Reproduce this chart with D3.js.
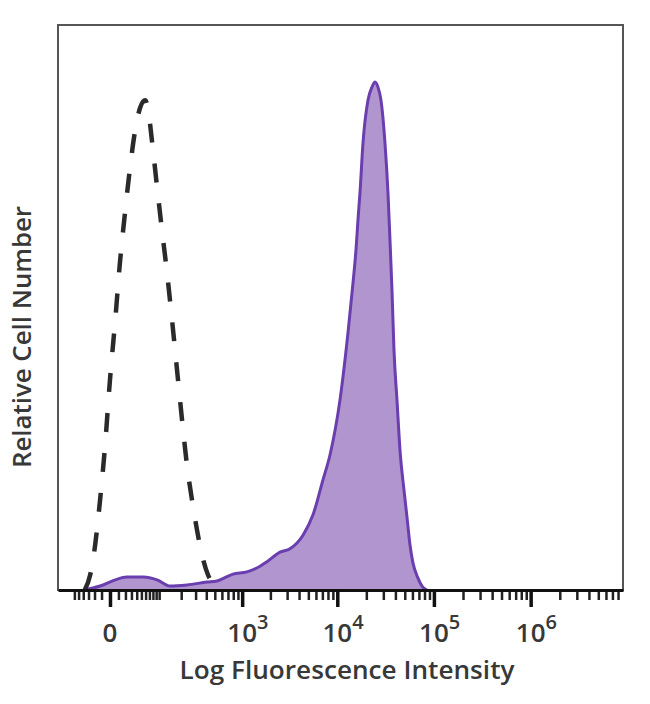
<!DOCTYPE html>
<html>
<head>
<meta charset="utf-8">
<script src="https://cdn.jsdelivr.net/npm/d3@7"></script>
<style>
  html, body { margin: 0; padding: 0; background: #fff; }
  svg { display: block; }
  text { font-family: "Open Sans", "DejaVu Sans", sans-serif; fill: #383838; font-weight: 600; }
</style>
</head>
<body>
<svg id="chart" width="650" height="704"></svg>
<script>
// ---- Data (fluorescence intensity, relative cell count) ----
const stainedX = [-37,-12,6,22,54,93,143,236,407,529,795,1127,1552,1841,2525,3213,4397,5590,7100,8400,10660,12910,14550,15630,16390,17190,18470,20800,22880,24580,26400,28360,31200,33510,35150,36860,38660,41530,44600,49050,52700,56570,60750,68460,75300,84850];
const stainedY = [0,0.7,1.8,2.3,2.3,1.8,0.7,0.9,1.4,1.6,2.8,3.2,4.2,5.0,6.7,7.3,9.7,13.3,19.5,23.9,33.6,45.5,54.3,60.2,65.5,70.3,79.1,86.7,89.0,89.9,89.0,86.7,79.1,70.3,61.9,53.1,42.5,33.6,24.8,17.7,12.9,8.0,4.8,2.1,0.7,0];
const controlX = [-37,-27,-19,-12,-6,0,6,12,19,27,37,47,59,66,77,93,110,130,152,177,205,236,272,312,357,418,502,602];
const controlY = [0,2.7,8.0,15.9,24.8,37.2,47.8,57.9,66.4,74.3,81.4,85.3,86.7,85.3,79.6,71.3,63.7,56.1,47.8,38.9,30.1,22.1,15.9,10.6,6.2,2.7,0.9,0];

const majorTicks = [0, 1e3, 1e4, 1e5, 1e6];
const majorLabels = [["0", ""], ["10", "3"], ["10", "4"], ["10", "5"], ["10", "6"]];
const nearZeroMinor = [-60,-50,-40,-30,-20,-10,10,20,30,40,50,60,70,80,90];
const minorDecades = [100, 1e3, 1e4, 1e5, 1e6];
const minorMultipliers = [1,2,3,4,5,6,7,8,9];
const xTitle = "Log Fluorescence Intensity";
const yTitle = "Relative Cell Number";

// ---- Layout ----
const pLeft = 58, pRight = 623, pTop = 25, pBottom = 590;
const svg = d3.select("#chart");

const x = d3.scaleSymlog().constant(45).domain([-110, 9e6]).range([pLeft, pRight]);
const y = d3.scaleLinear().domain([0, 100]).range([pBottom, pTop]);

const stained = stainedX.map((v, i) => [v, stainedY[i]]);
const control = controlX.map((v, i) => [v, controlY[i]]);

// frame
svg.append("rect")
  .attr("x", pLeft).attr("y", pTop)
  .attr("width", pRight - pLeft).attr("height", pBottom - pTop)
  .attr("fill", "none").attr("stroke", "#555").attr("stroke-width", 2);

// stained histogram
const area = d3.area().x(d => x(d[0])).y0(y(0)).y1(d => y(d[1])).curve(d3.curveMonotoneX);
const line = d3.line().x(d => x(d[0])).y(d => y(d[1])).curve(d3.curveMonotoneX);

svg.append("path").datum(stained)
  .attr("d", area).attr("fill", "#b195cf");
svg.append("path").datum(stained)
  .attr("d", line).attr("fill", "none")
  .attr("stroke", "#6a3eae").attr("stroke-width", 3).attr("stroke-linejoin", "round");

// control histogram (dashed)
svg.append("path").datum(control)
  .attr("d", line).attr("fill", "none")
  .attr("stroke", "#2a2a2a").attr("stroke-width", 4.5)
  .attr("stroke-dasharray", "19,21");

// minor ticks
const minorTicks = nearZeroMinor.slice();
minorDecades.forEach(d => minorMultipliers.forEach(m => {
  const v = d * m;
  if (!majorTicks.includes(v) && x(v) < pRight - 2) minorTicks.push(v);
}));

const axisG = svg.append("g").attr("transform", `translate(0,${pBottom})`);
axisG.append("g")
  .call(d3.axisBottom(x).tickValues(minorTicks).tickSize(10).tickSizeOuter(0).tickFormat(""))
  .call(g => g.select(".domain").remove())
  .call(g => g.selectAll("line").attr("stroke", "#222").attr("stroke-width", 2.5));
axisG.append("g")
  .call(d3.axisBottom(x).tickValues(majorTicks).tickSize(17).tickSizeOuter(0).tickFormat(""))
  .call(g => g.select(".domain").attr("stroke", "#111").attr("stroke-width", 3))
  .call(g => g.selectAll("line").attr("stroke", "#111").attr("stroke-width", 3.5));

// tick labels
majorTicks.forEach((v, i) => {
  const [base, sup] = majorLabels[i];
  const t = svg.append("text")
    .attr("x", x(v)).attr("y", 642)
    .attr("text-anchor", sup ? "start" : "middle")
    .attr("font-size", 26);
  t.append("tspan").text(base);
  if (sup) {
    t.append("tspan").attr("dy", -13).attr("font-size", 20).text(sup);
    const baseW = t.select("tspan").node().getComputedTextLength();
    t.attr("x", x(v) - baseW / 2);
  }
});

// axis titles
svg.append("text")
  .attr("x", 347).attr("y", 679)
  .attr("text-anchor", "middle").attr("font-size", 26)
  .attr("textLength", 335).attr("lengthAdjust", "spacingAndGlyphs")
  .text(xTitle);

svg.append("text")
  .attr("transform", "translate(31,337) rotate(-90)")
  .attr("text-anchor", "middle").attr("font-size", 26)
  .attr("textLength", 262).attr("lengthAdjust", "spacingAndGlyphs")
  .text(yTitle);
</script>
</body>
</html>
